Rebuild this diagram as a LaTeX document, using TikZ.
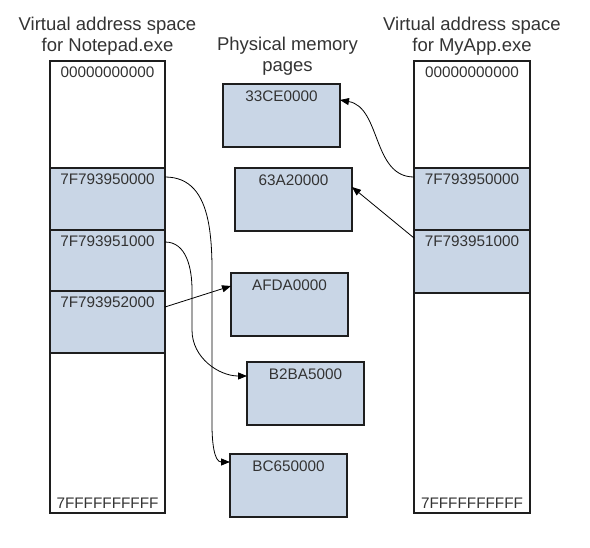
\documentclass[tikz,border=0pt]{standalone}
\usepackage{fontspec}
\setmainfont{Liberation Sans}
\usetikzlibrary{arrows.meta,positioning,calc}
\definecolor{vmfill}{HTML}{C9D6E6}
\definecolor{vmline}{HTML}{1E1E1E}
\definecolor{vmink}{HTML}{333333}
\tikzset{
  cell/.style={draw=vmline, line width=1.5pt, anchor=north west, inner sep=0pt, outer sep=0pt},
  pg/.style={cell, fill=vmfill, minimum width=117pt, minimum height=63pt},
  addr/.style={font=\fontsize{15.3}{18}\selectfont, text=vmink, inner sep=2pt},
  ttl/.style={font=\fontsize{18.5}{21.3}\selectfont, text=vmink, align=center, inner sep=0pt},
  arr/.style={-{Triangle[length=9pt, width=7pt]}, line width=0.8pt, color=black},
}
\begin{document}
\begin{tikzpicture}[x=1pt, y=-1pt]
  \useasboundingbox (0,0) rectangle (590,548);
  % virtual address space, left
  \foreach \nm/\y/\h/\col/\pos/\ys/\tx in {lt0/61/107/white/north/-4/00000000000, lb1/168/62/vmfill/north/-4/7F793950000, lb2/230/61/vmfill/north/-4/7F793951000, lb3/291/62/vmfill/north/-4/7F793952000, lt4/353/160/white/south/2/7FFFFFFFFFF}
    { \node[cell, fill=\col, minimum width=115pt, minimum height=\h, label={[addr, anchor=\pos, yshift=\ys pt]\pos:\tx}] (\nm) at (50,\y) {}; }
  % virtual address space, right
  \foreach \nm/\y/\h/\col/\pos/\ys/\tx in {rt0/61/107/white/north/-4/00000000000, rb1/168/62/vmfill/north/-4/7F793950000, rb2/230/63/vmfill/north/-4/7F793951000, rt3/293/220/white/south/2/7FFFFFFFFFF}
    { \node[cell, fill=\col, minimum width=116pt, minimum height=\h, label={[addr, anchor=\pos, yshift=\ys pt]\pos:\tx}] (\nm) at (414,\y) {}; }
  % physical pages
  \foreach \nm/\x/\y/\tx in {p1/223/84/33CE0000, p2/235/168/63A20000, p3/231/273/AFDA0000, p4/247/362/B2BA5000, p5/230/454/BC650000}
    { \node[pg, label={[addr, anchor=north, yshift=-5pt]north:\tx}] (\nm) at (\x,\y) {}; }
  \node[ttl, anchor=south] (tl) at ([yshift=5pt]lt0.north) {Virtual address space\\for Notepad.exe};
  \node[ttl, anchor=south] (tr) at ([yshift=5pt]rt0.north) {Virtual address space\\for MyApp.exe};
  \node[ttl, anchor=south] (tp) at ([xshift=6pt, yshift=8pt]p1.north) {Physical memory\\pages};
  % mappings
  \coordinate (v1a) at (212,300);
  \coordinate (v1b) at (212,425);
  \coordinate (v2a) at (192,290);
  \coordinate (v2b) at (192,330);
  \draw[arr] ([yshift=-9pt]lb1.north east) to[out=0, in=90] (v1a) -- (v1b) to[out=-90, in=180] ([yshift=-8pt]p5.north west);
  \draw[arr] ([yshift=-12pt]lb2.north east) to[out=0, in=90] (v2a) -- (v2b) to[out=-90, in=180] ([yshift=-14pt]p4.north west);
  \draw[arr] ([yshift=-16pt]lb3.north east) -- ([yshift=-13pt]p3.north west);
  \draw[arr] ([yshift=-9pt]rb1.north west) to[out=180, in=-10] ([yshift=-16pt]p1.north east);
  \draw[arr] ([yshift=-8pt]rb2.north west) -- ([yshift=-19pt]p2.north east);
\end{tikzpicture}
\end{document}
